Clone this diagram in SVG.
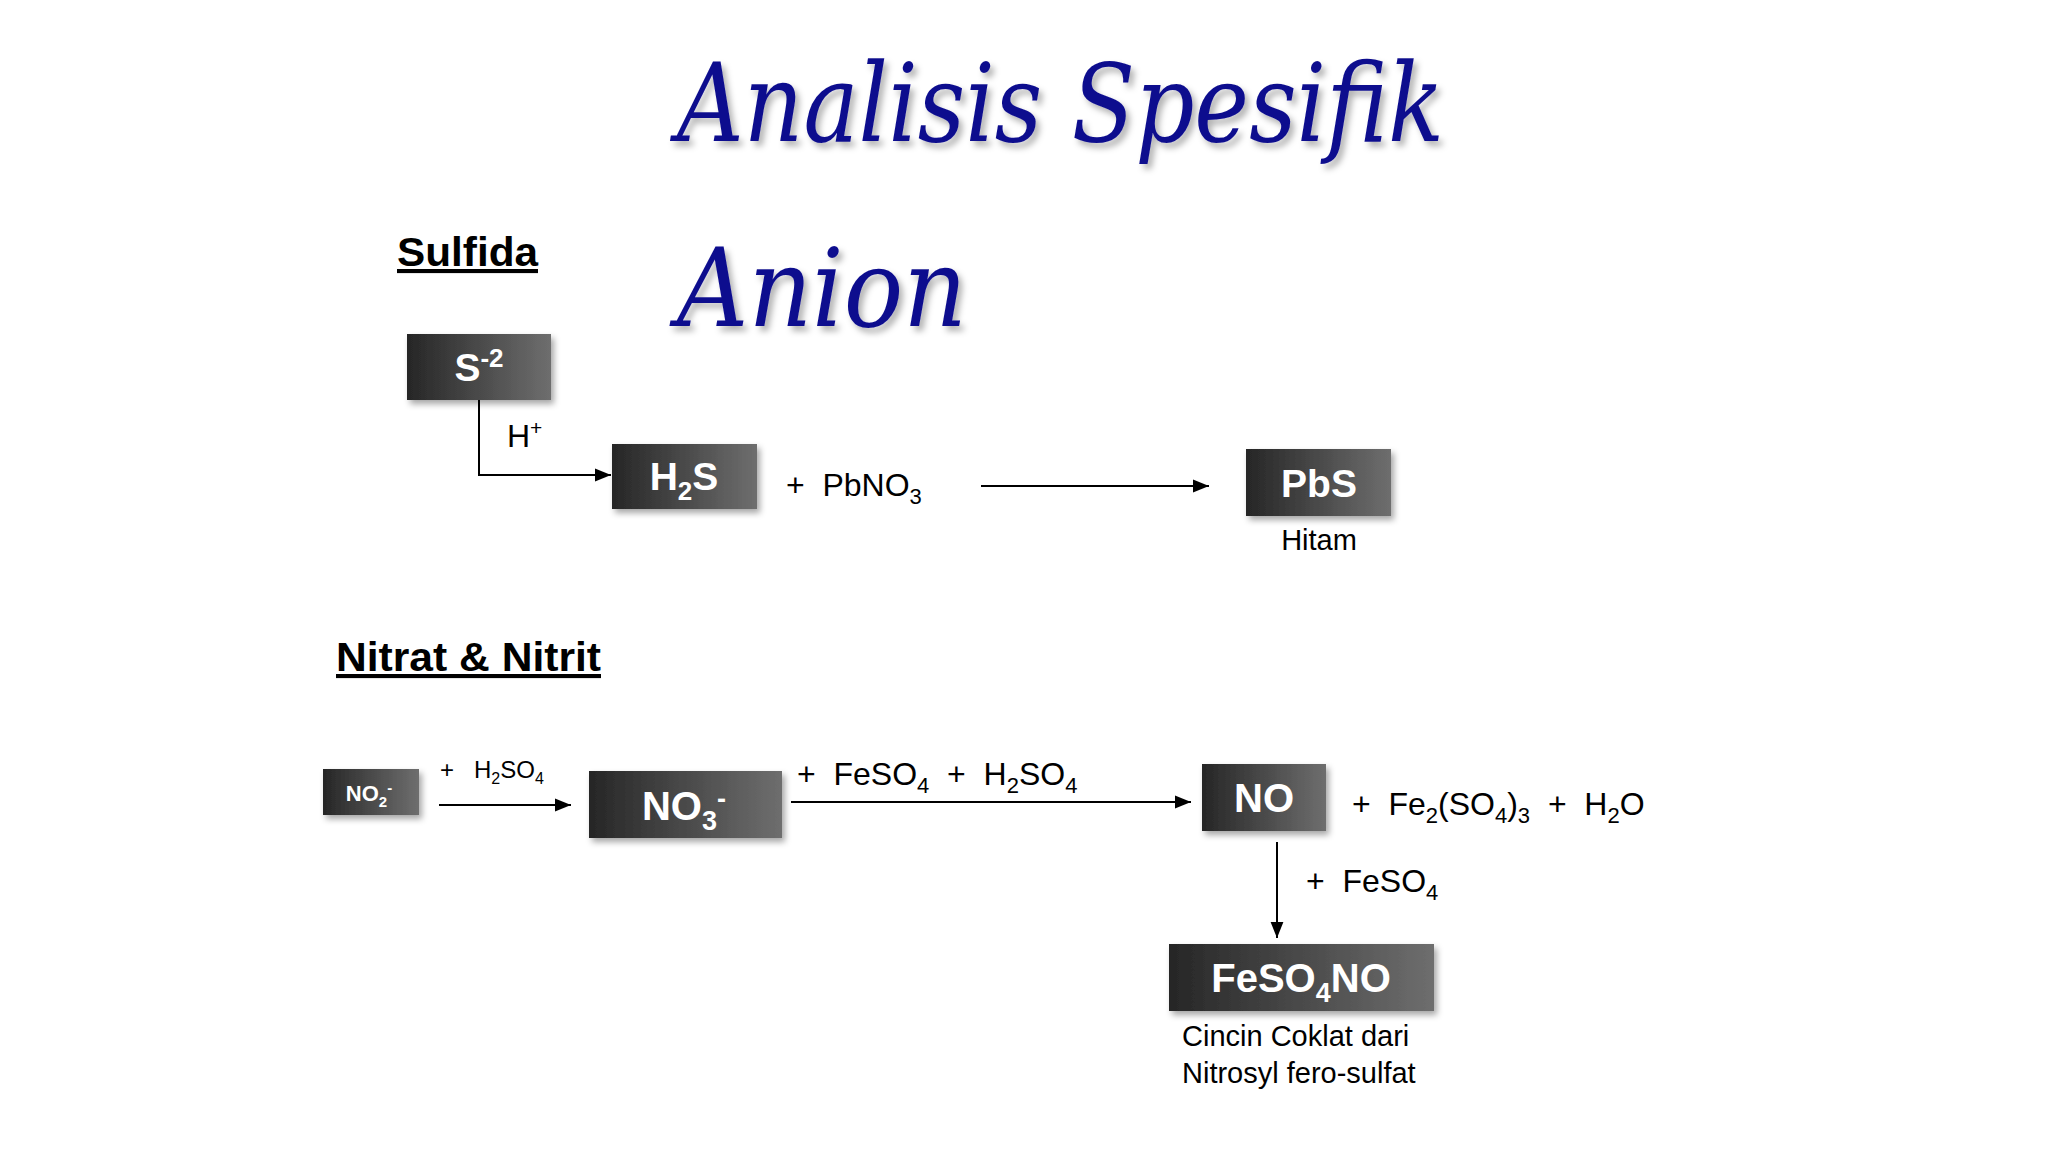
<svg xmlns="http://www.w3.org/2000/svg" width="2048" height="1152" viewBox="0 0 2048 1152">
<defs>
<linearGradient id="g" x1="0" y1="0" x2="1" y2="0"><stop offset="0" stop-color="#262626"/><stop offset="1" stop-color="#6e6e6e"/></linearGradient>
<filter id="sh" x="-10%" y="-10%" width="130%" height="140%"><feDropShadow dx="3" dy="4" stdDeviation="3" flood-color="#000" flood-opacity="0.35"/></filter>
<filter id="ts"><feDropShadow dx="4" dy="5" stdDeviation="3" flood-color="#000" flood-opacity="0.3"/></filter>
<marker id="a" viewBox="0 0 10 10" refX="10" refY="5" markerWidth="8" markerHeight="8" orient="auto"><path d="M0,1 L10,5 L0,9 Z" fill="#000"/></marker>
</defs>
<style>
text{white-space:pre}
.b{fill:url(#g);filter:url(#sh)}
.bt{font-family:"Liberation Sans",Arial,sans-serif;font-weight:bold;fill:#fff;text-anchor:middle}
.t{font-family:"Liberation Sans",Arial,sans-serif;fill:#000}
.h{font-family:"Liberation Sans",Arial,sans-serif;font-weight:bold;font-size:41px;text-decoration:underline}
.ti{font-family:"DejaVu Serif",serif;font-style:italic;font-size:108px;fill:#0e0e8e;filter:url(#ts)}
.l{stroke:#000;stroke-width:2;fill:none}
</style>
<rect width="2048" height="1152" fill="#fff"/>
<text class="ti" x="677" y="141" textLength="767" lengthAdjust="spacingAndGlyphs">Analisis Spesifik</text>
<text class="ti" x="677" y="326" textLength="290" lengthAdjust="spacingAndGlyphs">Anion</text>
<text class="h" x="397" y="266" textLength="141" lengthAdjust="spacingAndGlyphs">Sulfida</text>
<text class="h" x="336" y="671" textLength="265" lengthAdjust="spacingAndGlyphs">Nitrat &amp; Nitrit</text>
<g id="connectors">
<path class="l" d="M479,400 V475 H611" marker-end="url(#a)"/>
<path class="l" d="M981,486 H1209" marker-end="url(#a)"/>
<path class="l" d="M439,805 H571" marker-end="url(#a)"/>
<path class="l" d="M791,802 H1191" marker-end="url(#a)"/>
<path class="l" d="M1277,842 V938" marker-end="url(#a)"/>
</g>
<g id="s2"><rect class="b" x="407" y="334" width="144" height="66"/><text class="bt" x="479" y="381" font-size="39">S<tspan font-size="26" dy="-14">-2</tspan></text></g>
<text class="t" x="507" y="447" font-size="32">H<tspan font-size="21" dy="-12">+</tspan></text>
<g id="h2s"><rect class="b" x="612" y="444" width="145" height="65"/><text class="bt" x="684" y="490" font-size="39">H<tspan font-size="26" dy="10">2</tspan><tspan dy="-10">S</tspan></text></g>
<text class="t" x="786" y="496" font-size="32">+  PbNO<tspan font-size="22" dy="8">3</tspan></text>
<g id="pbs"><rect class="b" x="1246" y="449" width="145" height="67"/><text class="bt" x="1319" y="497" font-size="39">PbS</text><text class="t" x="1319" y="550" font-size="29" text-anchor="middle">Hitam</text></g>
<g id="no2"><rect class="b" x="323" y="769" width="96" height="46"/><text class="bt" x="369" y="801" font-size="22">NO<tspan font-size="15" dy="6">2</tspan><tspan font-size="15" dy="-14">-</tspan></text></g>
<text class="t" x="440" y="778" font-size="24">+   H<tspan font-size="16" dy="6">2</tspan><tspan dy="-6">SO</tspan><tspan font-size="16" dy="6">4</tspan></text>
<g id="no3"><rect class="b" x="589" y="771" width="193" height="67"/><text class="bt" x="684" y="820" font-size="40">NO<tspan font-size="27" dy="10">3</tspan><tspan font-size="27" dy="-22">-</tspan></text></g>
<text class="t" x="797" y="785" font-size="32">+  FeSO<tspan font-size="22" dy="8">4</tspan><tspan dy="-8">  +  H</tspan><tspan font-size="22" dy="8">2</tspan><tspan dy="-8">SO</tspan><tspan font-size="22" dy="8">4</tspan></text>
<g id="no"><rect class="b" x="1202" y="764" width="124" height="67"/><text class="bt" x="1264" y="812" font-size="40">NO</text></g>
<text class="t" x="1352" y="815" font-size="32">+  Fe<tspan font-size="22" dy="8">2</tspan><tspan dy="-8">(SO</tspan><tspan font-size="22" dy="8">4</tspan><tspan dy="-8">)</tspan><tspan font-size="22" dy="8">3</tspan><tspan dy="-8">  +  H</tspan><tspan font-size="22" dy="8">2</tspan><tspan dy="-8">O</tspan></text>
<text class="t" x="1306" y="892" font-size="32">+  FeSO<tspan font-size="22" dy="8">4</tspan></text>
<g id="feso4no"><rect class="b" x="1169" y="944" width="265" height="67"/><text class="bt" x="1301" y="992" font-size="40">FeSO<tspan font-size="27" dy="10">4</tspan><tspan dy="-10">NO</tspan></text>
<text class="t" x="1182" y="1046" font-size="29">Cincin Coklat dari</text><text class="t" x="1182" y="1083" font-size="29">Nitrosyl fero-sulfat</text></g>
</svg>
